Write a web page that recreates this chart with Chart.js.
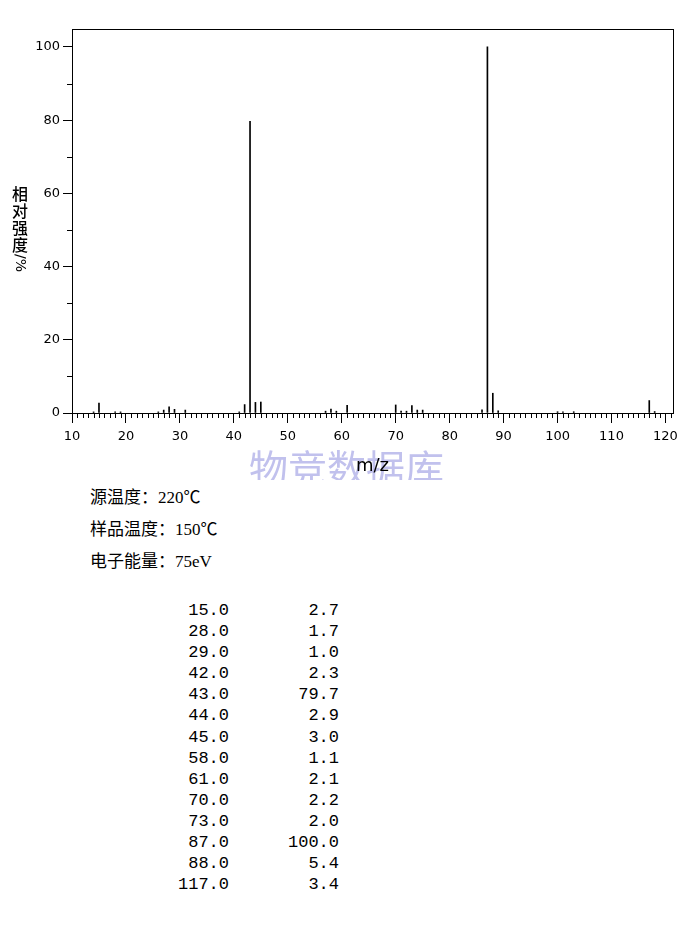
<!DOCTYPE html>
<html>
	<head>
		<meta charset="UTF-8" />
		<title>质谱图</title>
		<style type="text/css">
body {
	margin: 0;
	background: #fff;
}
.chartBox {
	position: absolute;
	left: 0;
	top: 0;
	width: 696px;
	height: 480px;
}
#info {
	position: absolute;
	left: 90px;
	top: 482px;
	font-family: "Liberation Serif", "Noto Sans CJK SC", serif;
	font-size: 17px;
	line-height: 32px;
	color: #000;
}
#info div {
	height: 32px;
	overflow: visible;
}
#info .cjk {
	font-family: "Noto Sans CJK SC";
	line-height: 1;
}
#peaks {
	position: absolute;
	left: 0;
	top: 600px;
	font-family: "Liberation Mono", "DejaVu Sans Mono", monospace;
	font-size: 17px;
	color: #000;
}
#peaks .row {
	position: relative;
	height: 21.1px;
	line-height: 21.1px;
}
#peaks span {
	position: absolute;
	left: 0;
	text-align: right;
	white-space: pre;
}
		</style>
	</head>
	<body>
		<script src="https://cdn.jsdelivr.net/npm/chart.js@4.4.1/dist/chart.umd.min.js"></script>
		<div class="chartBox">
			<canvas id="myChart" width="696" height="480"></canvas>
		</div>
		<div id="info"></div>
		<div id="peaks"></div>
		<script charset="utf-8">
			// peaks (m/z, relative intensity %)
			const MZ = [14, 15, 18, 19, 26, 27, 28, 29, 31, 41, 42, 43, 44, 45, 57, 58, 59, 61, 70, 71, 72, 73, 74, 75, 86, 87, 88, 89, 100, 101, 103, 117, 118];
			const INTENSITY = [0.3, 2.7, 0.3, 0.3, 0.3, 0.8, 1.7, 1.0, 0.8, 0.3, 2.3, 79.7, 2.9, 3.0, 0.5, 1.1, 0.5, 2.1, 2.2, 0.5, 0.5, 2.0, 0.8, 0.8, 0.9, 100.0, 5.4, 0.6, 0.35, 0.35, 0.35, 3.4, 0.4];

			const X_TICKS = [10, 20, 30, 40, 50, 60, 70, 80, 90, 100, 110, 120];
			const Y_TICKS = [0, 20, 40, 60, 80, 100];
			const Y_MINOR = [10, 30, 50, 70, 90];

			const Y_TITLE = ['相', '对', '强', '度'];
			const Y_UNIT = '/%';
			const X_TITLE = 'm/z';
			const WATERMARK = '物竞数据库';

			const INFO = ['源温度：220℃', '样品温度：150℃', '电子能量：75eV'];

			// extra drawing: minor ticks, frame, axis titles, watermark
			const extras = {
				id: 'extras',
				afterDraw: chart => {
					const c = chart.ctx;
					const a = chart.chartArea;
					const xs = chart.scales.x;
					const ys = chart.scales.y;
					c.save();
					c.strokeStyle = '#000';
					c.lineWidth = 1;
					c.beginPath();
					for (let v = 11; v <= 121; v++) {
						if (v % 10 === 0) continue;
						const px = Math.round(xs.getPixelForValue(v)) + 0.5;
						c.moveTo(px, a.bottom);
						c.lineTo(px, a.bottom + 5);
					}
					Y_MINOR.forEach(v => {
						const py = Math.round(ys.getPixelForValue(v)) + 0.5;
						c.moveTo(a.left - 5, py);
						c.lineTo(a.left, py);
					});
					c.stroke();
					c.strokeRect(Math.round(a.left) + 0.5, Math.round(a.top) + 0.5, Math.round(a.right - a.left), Math.round(a.bottom - a.top));

					// y title, stacked
					c.fillStyle = '#000';
					c.font = '500 16px "Noto Sans CJK SC"';
					c.textAlign = 'center';
					c.textBaseline = 'middle';
					Y_TITLE.forEach((ch, i) => {
						c.fillText(ch, 20, 194 + i * 17);
					});
					c.save();
					c.translate(20, 263);
					c.rotate(Math.PI / 2);
					c.font = '14px "DejaVu Sans"';
					c.fillText(Y_UNIT, 0, 0);
					c.restore();

					// watermark then x title
					c.fillStyle = 'rgba(160, 160, 228, 0.65)';
					c.font = '39px "Noto Sans CJK SC"';
					c.textAlign = 'left';
					c.fillText(WATERMARK, 249, 468);
					c.fillStyle = '#000';
					c.font = '18px "DejaVu Sans"';
					c.textAlign = 'center';
					c.fillText(X_TITLE, (a.left + a.right) / 2, 466);
					c.restore();
				}
			};

			const data = {
				datasets: [{
					label: 'EI-MS',
					data: MZ.map((m, i) => ({x: m, y: INTENSITY[i]})),
					backgroundColor: '#000',
					borderWidth: 0,
					barThickness: 1,
				}]
			};

			const config = {
				type: 'bar',
				data,
				options: {
					responsive: false,
					animation: false,
					layout: {
						padding: {top: 29, right: 23, left: 0, bottom: 0}
					},
					plugins: {
						legend: {display: false},
						tooltip: {enabled: false}
					},
					scales: {
						x: {
							type: 'linear',
							min: 10,
							max: 121.4,
							offset: false,
							afterBuildTicks: s => { s.ticks = X_TICKS.map(v => ({value: v})); },
							afterFit: s => { s.height = 67; },
							grid: {offset: false, drawOnChartArea: false, tickLength: 10, color: '#000'},
							border: {color: '#000'},
							ticks: {color: '#000', font: {family: 'DejaVu Sans', size: 13}, padding: 6, maxRotation: 0, autoSkip: false}
						},
						y: {
							min: 0,
							max: 104.9,
							afterBuildTicks: s => { s.ticks = Y_TICKS.map(v => ({value: v})); },
							afterFit: s => { s.width = 72; },
							grid: {drawOnChartArea: false, tickLength: 9, color: '#000'},
							border: {color: '#000'},
							ticks: {color: '#000', font: {family: 'DejaVu Sans', size: 13}, padding: 3}
						}
					}
				},
				plugins: [extras]
			};

			var ctx = document.getElementById('myChart').getContext('2d');
			var myChart = new Chart(ctx, config);

			document.getElementById('info').innerHTML = INFO.map(t => '<div>' + t.replace('℃', '<span class="cjk">℃</span>') + '</div>').join('');

			// peak list: everything at or above 1 %
			var rows = '';
			MZ.forEach((m, i) => {
				if (INTENSITY[i] < 1) return;
				rows += '<div class="row"><span style="width:229px">' + m.toFixed(1) + '</span><span style="width:339px">' + INTENSITY[i].toFixed(1) + '</span></div>';
			});
			document.getElementById('peaks').innerHTML = rows;
		</script>
	</body>
</html>
